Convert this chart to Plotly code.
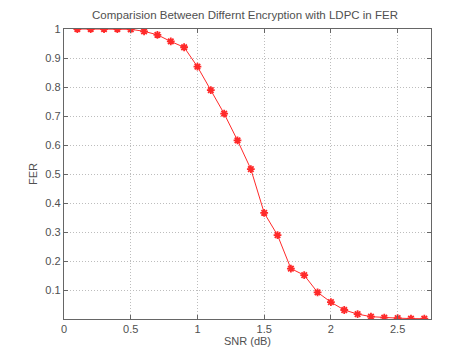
import plotly.graph_objects as go

snr = [0.1, 0.2, 0.3, 0.4, 0.5, 0.6, 0.7, 0.8, 0.9, 1.0, 1.1, 1.2, 1.3, 1.4,
       1.5, 1.6, 1.7, 1.8, 1.9, 2.0, 2.1, 2.2, 2.3, 2.4, 2.5, 2.6, 2.7]
fer = [1.0, 1.0, 1.0, 1.0, 0.999, 0.992, 0.980, 0.957, 0.937, 0.870, 0.789,
       0.708, 0.616, 0.517, 0.366, 0.289, 0.174, 0.151, 0.092, 0.058, 0.031,
       0.017, 0.008, 0.0045, 0.003, 0.0015, 0.001]

x_ticks = [0, 0.5, 1, 1.5, 2, 2.5]
x_tick_text = ["0", "0.5", "1", "1.5", "2", "2.5"]
y_ticks = [0.1, 0.2, 0.3, 0.4, 0.5, 0.6, 0.7, 0.8, 0.9, 1]
y_tick_text = ["0.1", "0.2", "0.3", "0.4", "0.5", "0.6", "0.7", "0.8", "0.9", "1"]

title_text = "Comparision Between Differnt Encryption with LDPC in FER"

fig = go.Figure()
fig.add_trace(go.Scatter(
    x=snr, y=fer, mode="lines+markers",
    line=dict(color="#ff2a2a", width=1),
    marker=dict(symbol="asterisk-open", size=6.5, color="#ff2a2a",
                line=dict(color="#ff2a2a", width=1.8)),
    showlegend=False,
))

font = dict(family="Liberation Sans, Arial, sans-serif", size=11, color="#505050")
axis_common = dict(
    showline=True, linecolor="#666666", linewidth=1.3, mirror="allticks",
    ticks="inside", ticklen=4, tickcolor="#666666",
    showgrid=True, gridcolor="#bdbdbd", griddash="1px,2px", gridwidth=1,
    zeroline=False, tickfont=font,
)

fig.update_layout(
    width=474, height=355,
    margin=dict(l=56, r=51, t=21, b=44),
    paper_bgcolor="white", plot_bgcolor="white",
    title=dict(text=title_text, x=0.5, xanchor="center", y=0.979, yanchor="middle",
               font=dict(family="Liberation Sans, Arial, sans-serif", size=11.5, color="#505050")),
    xaxis=dict(range=[0, 2.75], tickvals=x_ticks, ticktext=x_tick_text,
               title=dict(text="SNR (dB)", font=font, standoff=1), **axis_common),
    yaxis=dict(range=[0, 1], tickvals=y_ticks, ticktext=y_tick_text,
               title=dict(text="FER", font=font, standoff=5), **axis_common),
    font=font,
)

fig.write_html("out.html")
